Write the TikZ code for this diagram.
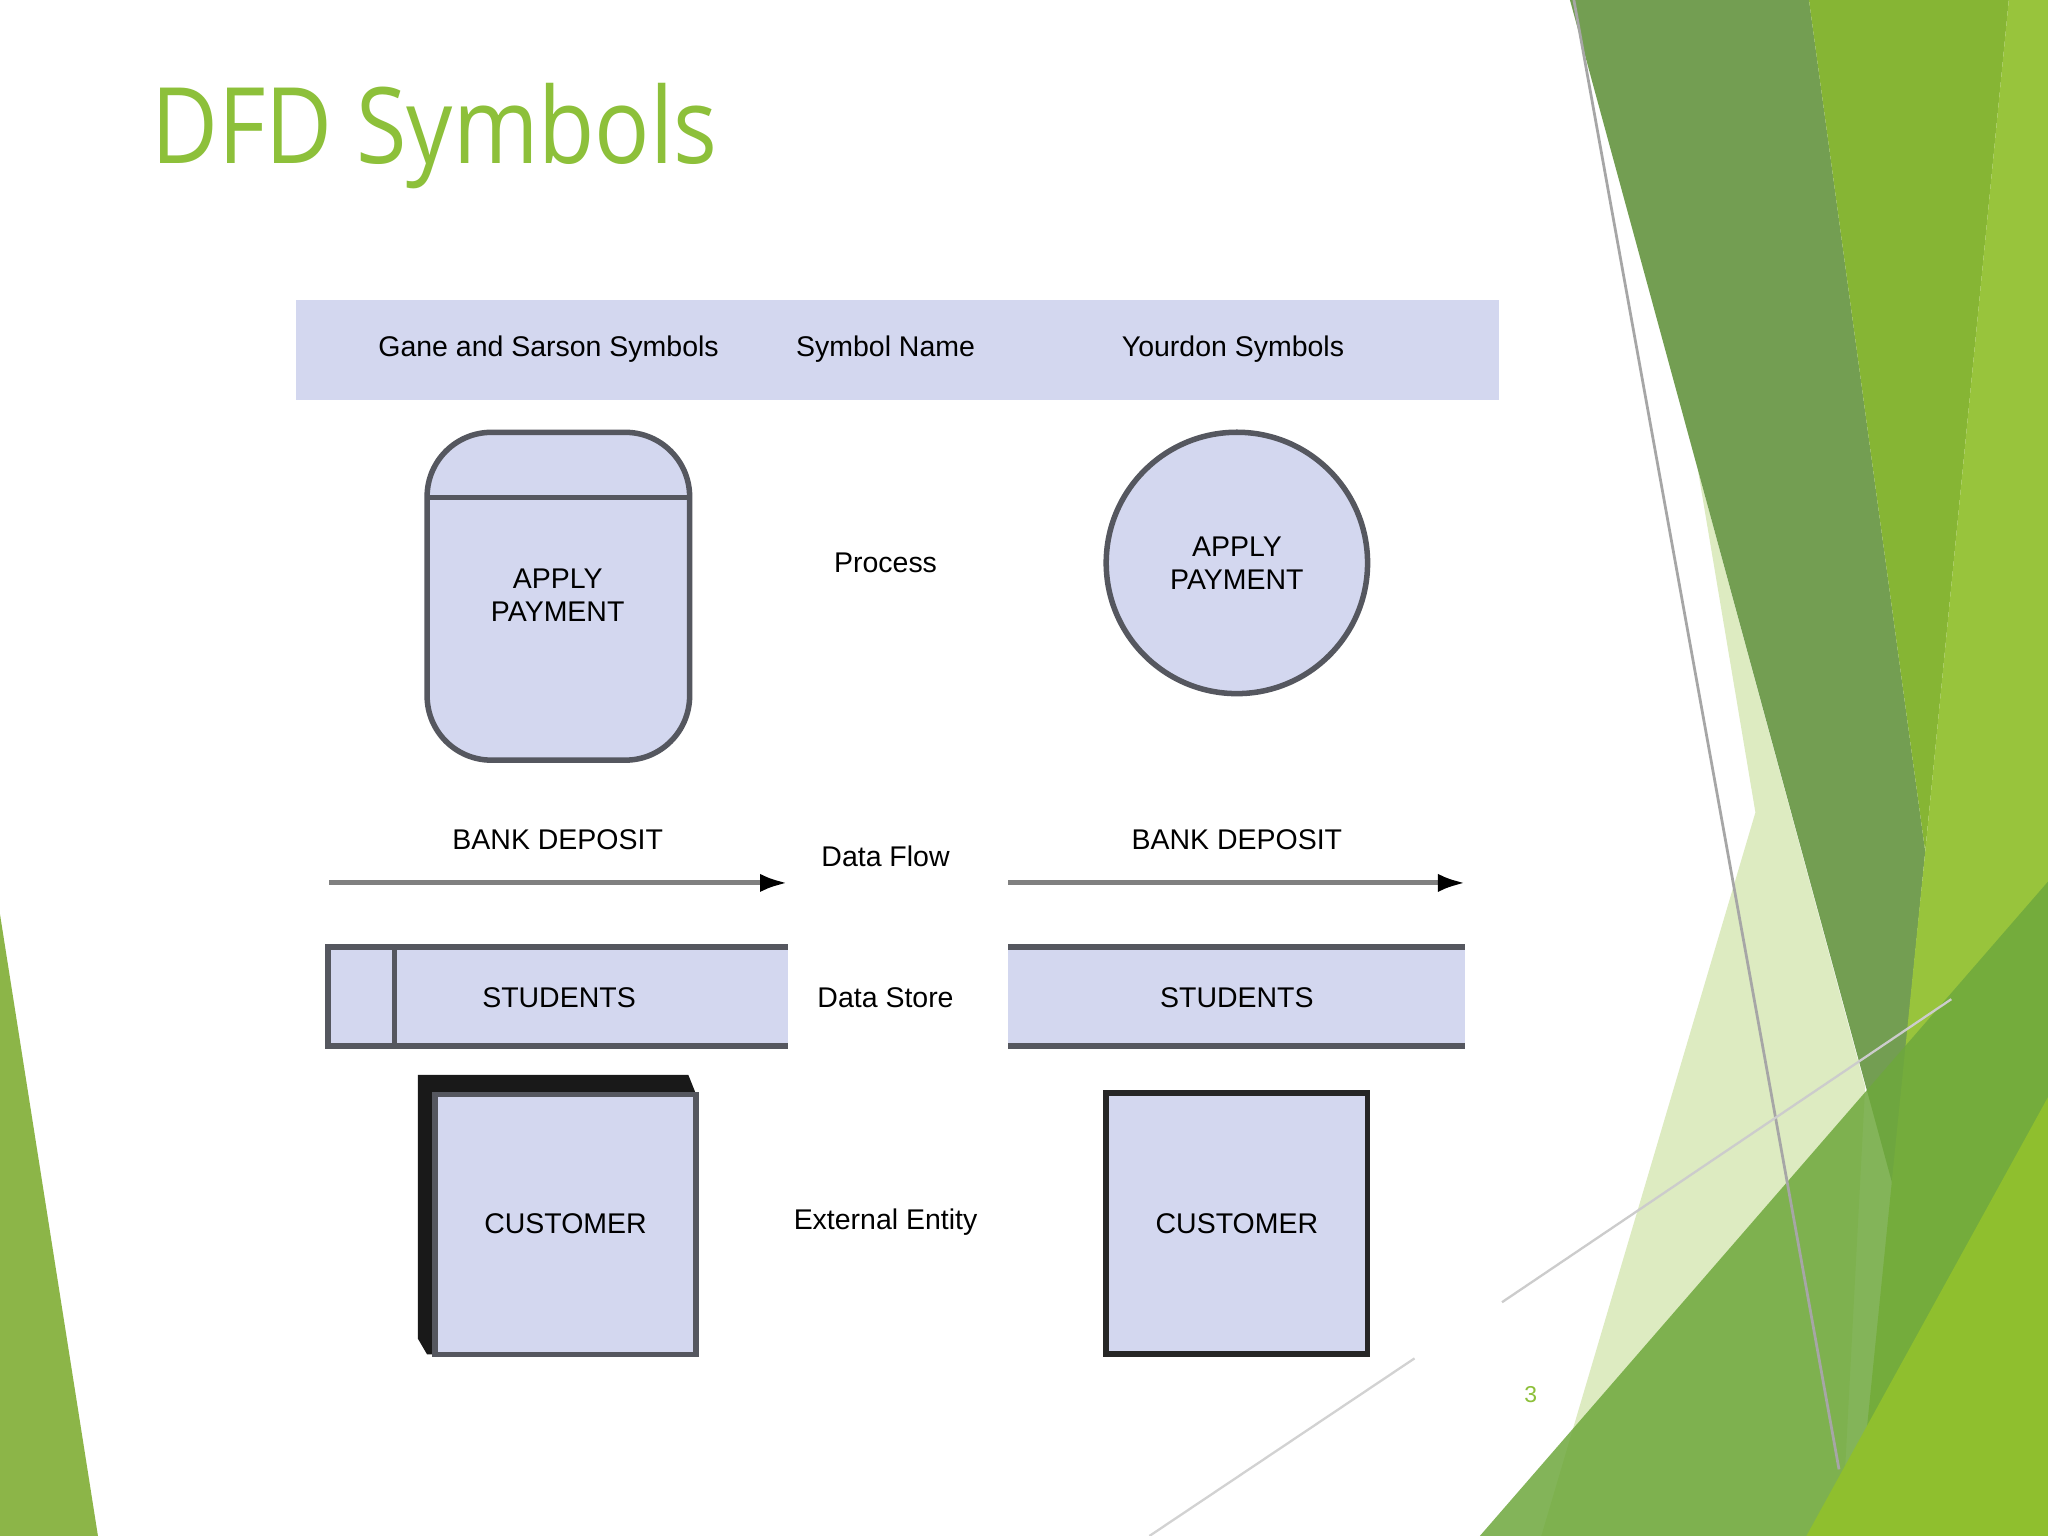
\documentclass[tikz,border=0pt]{standalone}
\usepackage{fontspec}
\setmainfont{Liberation Sans}
\newfontfamily\titlefont{Open Sans}
\usetikzlibrary{arrows.meta}
\begin{document}
\begin{tikzpicture}[x=0.01cm,y=-0.01cm,
  lav/.style={fill=lav},
  lbl/.style={font=\fontsize{6.2}{7.2}\selectfont, align=center, inner sep=0pt},
  bord/.style={draw=borderc, line width=1.2pt}]
\definecolor{lav}{HTML}{D3D7EF}
\definecolor{borderc}{HTML}{55575F}
\definecolor{tgreen}{HTML}{8DC03A}
\useasboundingbox (0,0) rectangle (1568,1176);
\fill[white] (0,0) rectangle (1568,1176);
% background decoration
\fill[tgreen!90!black!90] (0,700) -- (0,1176) -- (75,1176) -- cycle;
\fill[fill={rgb,255:red,221;green,235;blue,193}] (1300,360) -- (1428,832) -- (1410,1176) -- (1180,1176) -- (1344,622) -- cycle;
\fill[fill={rgb,255:red,115;green,158;blue,82}] (1202,0) -- (1385,0) -- (1474,652) -- (1449,907) -- cycle;
\fill[fill={rgb,255:red,134;green,181;blue,52}] (1385,0) -- (1538,0) -- (1474,652) -- cycle;
\fill[fill={rgb,255:red,152;green,196;blue,60}] (1538,0) -- (1568,0) -- (1568,1176) -- (1421,1176) -- (1474,652) -- cycle;
\fill[fill={rgb,255:red,110;green,168;blue,60}, opacity=0.85] (1133,1176) -- (1568,675) -- (1568,1176) -- cycle;
\fill[fill={rgb,255:red,143;green,191;blue,46}] (1383,1176) -- (1568,840) -- (1568,1176) -- cycle;
\draw[gray!70, line width=0.6pt] (1205,0) -- (1408,1125);
\draw[gray!40, line width=0.5pt] (1150,997) -- (1494,765);
\draw[gray!35, line width=0.5pt] (1083,1040) -- (880,1176);
% title
\node[anchor=base west, inner sep=0pt, text=tgreen, font=\titlefont\fontsize{23}{28}\selectfont] (title) at (115,125) {\scalebox{0.87}[1]{DFD Symbols}};
\node[text=tgreen, font=\fontsize{5}{6}\selectfont] (pg) at (1172,1068) {3};
% header
\fill[lav] (227,230) rectangle (1148,306);
\node[lbl] (h1) at (420,267) {Gane and Sarson Symbols};
\node[lbl] (h2) at (678,267) {Symbol Name};
\node[lbl] (h3) at (944,267) {Yourdon Symbols};
% process
\draw[bord, lav, rounded corners=14] (327,331) rectangle (528,582);
\draw[bord] (327,381) -- (528,381);
\node[lbl] (p1) at (427,456) {APPLY\\PAYMENT};
\node[lbl] (pn) at (678,431) {Process};
\node[circle, lav, bord, minimum size=2cm, inner sep=0pt] (p2) at (947,431) {};
\node[lbl] at (947,431) {APPLY\\PAYMENT};
% data flow
\node[lbl] (f1) at (427,643) {BANK DEPOSIT};
\node[lbl] (fn) at (678,656) {Data Flow};
\node[lbl] (f2) at (947,643) {BANK DEPOSIT};
\coordinate (a1) at (252,676); \coordinate (b1) at (603,676);
\coordinate (a2) at (772,676); \coordinate (b2) at (1122,676);
\draw[gray, line width=1.1pt, -{Latex[black,length=6pt,width=4pt]}] (a1) -- (b1);
\draw[gray, line width=1.1pt, -{Latex[black,length=6pt,width=4pt]}] (a2) -- (b2);
% data store
\fill[lav] (251,725) rectangle (603,801);
\draw[bord] (603,725) -- (251,725) -- (251,801) -- (603,801);
\draw[bord] (302,725) -- (302,801);
\node[lbl] (s1) at (428,764) {STUDENTS};
\node[lbl] (sn) at (678,764) {Data Store};
\fill[lav] (772,725) rectangle (1122,801);
\draw[bord] (772,725) -- (1122,725); \draw[bord] (772,801) -- (1122,801);
\node[lbl] (s2) at (947,764) {STUDENTS};
% external entity
\fill[black!90] (320,823) -- (527,823) -- (533,838) -- (333,838) -- (333,1037) -- (327,1037) -- (320,1025) -- cycle;
\draw[bord, lav] (333,838) rectangle (533,1037);
\node[lbl] (e1) at (433,937) {CUSTOMER};
\node[lbl] (en) at (678,936) {External Entity};
\draw[line width=1.3pt, draw=black!85, lav] (847,837) rectangle (1047,1037);
\node[lbl] (e2) at (947,937) {CUSTOMER};
\end{tikzpicture}
\end{document}
